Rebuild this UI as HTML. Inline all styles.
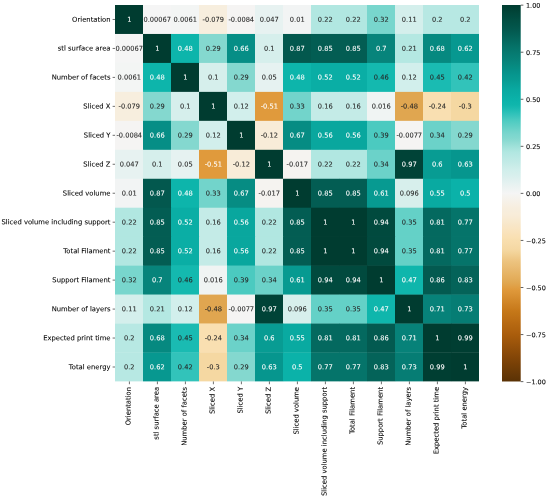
<!DOCTYPE html>
<html lang="en"><head><meta charset="utf-8"><title>Correlation heatmap</title>
<style>html,body{margin:0;padding:0;background:#fff}body{width:550px;height:501px;overflow:hidden}svg{display:block}</style></head>
<body>
<svg width="550" height="501" viewBox="0 0 550 501" font-family="'DejaVu Sans', 'Liberation Sans', sans-serif" font-size="6.67">
<rect width="550" height="501" fill="#fff"/>
<defs><linearGradient id="cb" x1="0" y1="0" x2="0" y2="1"><stop offset="0.0000" stop-color="#003c30"/><stop offset="0.0078" stop-color="#004034"/><stop offset="0.0156" stop-color="#014337"/><stop offset="0.0234" stop-color="#01473b"/><stop offset="0.0312" stop-color="#014a3f"/><stop offset="0.0391" stop-color="#024e42"/><stop offset="0.0469" stop-color="#025146"/><stop offset="0.0547" stop-color="#025449"/><stop offset="0.0625" stop-color="#03574d"/><stop offset="0.0703" stop-color="#035b51"/><stop offset="0.0781" stop-color="#035f55"/><stop offset="0.0859" stop-color="#04645a"/><stop offset="0.0938" stop-color="#04685e"/><stop offset="0.1016" stop-color="#046d63"/><stop offset="0.1094" stop-color="#057167"/><stop offset="0.1172" stop-color="#05756b"/><stop offset="0.1250" stop-color="#06796f"/><stop offset="0.1328" stop-color="#067c73"/><stop offset="0.1406" stop-color="#068076"/><stop offset="0.1484" stop-color="#07837a"/><stop offset="0.1562" stop-color="#07877e"/><stop offset="0.1641" stop-color="#068c82"/><stop offset="0.1719" stop-color="#068f87"/><stop offset="0.1797" stop-color="#06938b"/><stop offset="0.1875" stop-color="#06978f"/><stop offset="0.1953" stop-color="#079a91"/><stop offset="0.2031" stop-color="#089e95"/><stop offset="0.2109" stop-color="#08a299"/><stop offset="0.2188" stop-color="#09a69e"/><stop offset="0.2266" stop-color="#09aaa1"/><stop offset="0.2344" stop-color="#0aaca4"/><stop offset="0.2422" stop-color="#0aafa6"/><stop offset="0.2500" stop-color="#0bb2a9"/><stop offset="0.2578" stop-color="#0db4ab"/><stop offset="0.2656" stop-color="#10b6ac"/><stop offset="0.2734" stop-color="#18bab1"/><stop offset="0.2812" stop-color="#24beb5"/><stop offset="0.2891" stop-color="#30c2ba"/><stop offset="0.2969" stop-color="#3dc6bd"/><stop offset="0.3047" stop-color="#4acac0"/><stop offset="0.3125" stop-color="#54cdc3"/><stop offset="0.3203" stop-color="#5ecfc5"/><stop offset="0.3281" stop-color="#68d2c8"/><stop offset="0.3359" stop-color="#73d4cb"/><stop offset="0.3438" stop-color="#7bd6ce"/><stop offset="0.3516" stop-color="#81d8cf"/><stop offset="0.3594" stop-color="#8adad1"/><stop offset="0.3672" stop-color="#94ddd5"/><stop offset="0.3750" stop-color="#9ee1d9"/><stop offset="0.3828" stop-color="#a8e4dd"/><stop offset="0.3906" stop-color="#b1e7e1"/><stop offset="0.3984" stop-color="#b6e8e3"/><stop offset="0.4062" stop-color="#bbe9e4"/><stop offset="0.4141" stop-color="#c0eae6"/><stop offset="0.4219" stop-color="#c5ebe7"/><stop offset="0.4297" stop-color="#cbede9"/><stop offset="0.4375" stop-color="#d0eeeb"/><stop offset="0.4453" stop-color="#d4efec"/><stop offset="0.4531" stop-color="#d8efed"/><stop offset="0.4609" stop-color="#ddf0ee"/><stop offset="0.4688" stop-color="#e2f1f0"/><stop offset="0.4766" stop-color="#e7f2f1"/><stop offset="0.4844" stop-color="#ecf3f2"/><stop offset="0.4922" stop-color="#f0f4f3"/><stop offset="0.5000" stop-color="#f5f5f5"/><stop offset="0.5078" stop-color="#f5f4f0"/><stop offset="0.5156" stop-color="#f6f2ec"/><stop offset="0.5234" stop-color="#f6f1e7"/><stop offset="0.5312" stop-color="#f7efe3"/><stop offset="0.5391" stop-color="#f7eede"/><stop offset="0.5469" stop-color="#f7eddc"/><stop offset="0.5547" stop-color="#f8edda"/><stop offset="0.5625" stop-color="#f8ebd6"/><stop offset="0.5703" stop-color="#f8ead1"/><stop offset="0.5781" stop-color="#f8e8cc"/><stop offset="0.5859" stop-color="#f8e6c7"/><stop offset="0.5938" stop-color="#f9e5c2"/><stop offset="0.6016" stop-color="#f9e3bd"/><stop offset="0.6094" stop-color="#f9e1b8"/><stop offset="0.6172" stop-color="#f9e0b3"/><stop offset="0.6250" stop-color="#f8deae"/><stop offset="0.6328" stop-color="#f7dcab"/><stop offset="0.6406" stop-color="#f6daa7"/><stop offset="0.6484" stop-color="#f5d8a3"/><stop offset="0.6562" stop-color="#f3d49b"/><stop offset="0.6641" stop-color="#f1cf92"/><stop offset="0.6719" stop-color="#efc989"/><stop offset="0.6797" stop-color="#edc480"/><stop offset="0.6875" stop-color="#ebc07a"/><stop offset="0.6953" stop-color="#eabc74"/><stop offset="0.7031" stop-color="#e8b86e"/><stop offset="0.7109" stop-color="#e6b567"/><stop offset="0.7188" stop-color="#e5b161"/><stop offset="0.7266" stop-color="#e3ad5b"/><stop offset="0.7344" stop-color="#e1a954"/><stop offset="0.7422" stop-color="#e0a44d"/><stop offset="0.7500" stop-color="#e09e43"/><stop offset="0.7578" stop-color="#df983a"/><stop offset="0.7656" stop-color="#db9436"/><stop offset="0.7734" stop-color="#d88f31"/><stop offset="0.7812" stop-color="#d48a2c"/><stop offset="0.7891" stop-color="#d18627"/><stop offset="0.7969" stop-color="#cd8123"/><stop offset="0.8047" stop-color="#ca7d1e"/><stop offset="0.8125" stop-color="#c67819"/><stop offset="0.8203" stop-color="#c27517"/><stop offset="0.8281" stop-color="#bf7116"/><stop offset="0.8359" stop-color="#bc6e14"/><stop offset="0.8438" stop-color="#b86a12"/><stop offset="0.8516" stop-color="#b46711"/><stop offset="0.8594" stop-color="#b1640f"/><stop offset="0.8672" stop-color="#ae600e"/><stop offset="0.8750" stop-color="#aa5d0c"/><stop offset="0.8828" stop-color="#a55a0b"/><stop offset="0.8906" stop-color="#a0570b"/><stop offset="0.8984" stop-color="#9b540a"/><stop offset="0.9062" stop-color="#96510a"/><stop offset="0.9141" stop-color="#914e09"/><stop offset="0.9219" stop-color="#8c4b08"/><stop offset="0.9297" stop-color="#874808"/><stop offset="0.9375" stop-color="#824507"/><stop offset="0.9453" stop-color="#7d4307"/><stop offset="0.9531" stop-color="#784006"/><stop offset="0.9609" stop-color="#733e06"/><stop offset="0.9688" stop-color="#6e3c06"/><stop offset="0.9766" stop-color="#693906"/><stop offset="0.9844" stop-color="#643706"/><stop offset="0.9922" stop-color="#5f3405"/><stop offset="1.0000" stop-color="#5a3205"/></linearGradient></defs>
<g>
<rect x="115.00" y="5.00" width="28.30" height="29.26" fill="#003c30"/>
<rect x="143.00" y="5.00" width="28.30" height="29.26" fill="#f5f5f5"/>
<rect x="171.00" y="5.00" width="28.30" height="29.26" fill="#f3f5f4"/>
<rect x="199.00" y="5.00" width="28.30" height="29.26" fill="#f7eede"/>
<rect x="227.00" y="5.00" width="28.30" height="29.26" fill="#f5f4f3"/>
<rect x="255.00" y="5.00" width="28.30" height="29.26" fill="#e7f2f1"/>
<rect x="283.00" y="5.00" width="28.30" height="29.26" fill="#f2f4f4"/>
<rect x="311.00" y="5.00" width="28.30" height="29.26" fill="#b1e7e1"/>
<rect x="339.00" y="5.00" width="28.30" height="29.26" fill="#b1e7e1"/>
<rect x="367.00" y="5.00" width="28.30" height="29.26" fill="#78d6cd"/>
<rect x="395.00" y="5.00" width="28.30" height="29.26" fill="#d4efec"/>
<rect x="423.00" y="5.00" width="28.30" height="29.26" fill="#b7e8e3"/>
<rect x="451.00" y="5.00" width="28.30" height="29.26" fill="#b7e8e3"/>
<rect x="115.00" y="33.96" width="28.30" height="29.26" fill="#f5f5f5"/>
<rect x="143.00" y="33.96" width="28.30" height="29.26" fill="#003c30"/>
<rect x="171.00" y="33.96" width="28.30" height="29.26" fill="#0db5ab"/>
<rect x="199.00" y="33.96" width="28.30" height="29.26" fill="#84d8cf"/>
<rect x="227.00" y="33.96" width="28.30" height="29.26" fill="#068e86"/>
<rect x="255.00" y="33.96" width="28.30" height="29.26" fill="#d6efec"/>
<rect x="283.00" y="33.96" width="28.30" height="29.26" fill="#03584e"/>
<rect x="311.00" y="33.96" width="28.30" height="29.26" fill="#035d53"/>
<rect x="339.00" y="33.96" width="28.30" height="29.26" fill="#035d53"/>
<rect x="367.00" y="33.96" width="28.30" height="29.26" fill="#07847b"/>
<rect x="395.00" y="33.96" width="28.30" height="29.26" fill="#b4e8e2"/>
<rect x="423.00" y="33.96" width="28.30" height="29.26" fill="#068980"/>
<rect x="451.00" y="33.96" width="28.30" height="29.26" fill="#079890"/>
<rect x="115.00" y="62.92" width="28.30" height="29.26" fill="#f3f5f4"/>
<rect x="143.00" y="62.92" width="28.30" height="29.26" fill="#0db5ab"/>
<rect x="171.00" y="62.92" width="28.30" height="29.26" fill="#003c30"/>
<rect x="199.00" y="62.92" width="28.30" height="29.26" fill="#d6efec"/>
<rect x="227.00" y="62.92" width="28.30" height="29.26" fill="#84d8cf"/>
<rect x="255.00" y="62.92" width="28.30" height="29.26" fill="#e6f2f1"/>
<rect x="283.00" y="62.92" width="28.30" height="29.26" fill="#0db5ab"/>
<rect x="311.00" y="62.92" width="28.30" height="29.26" fill="#0aaea5"/>
<rect x="339.00" y="62.92" width="28.30" height="29.26" fill="#0aaea5"/>
<rect x="367.00" y="62.92" width="28.30" height="29.26" fill="#14b9af"/>
<rect x="395.00" y="62.92" width="28.30" height="29.26" fill="#d2efec"/>
<rect x="423.00" y="62.92" width="28.30" height="29.26" fill="#1abbb2"/>
<rect x="451.00" y="62.92" width="28.30" height="29.26" fill="#32c3ba"/>
<rect x="115.00" y="91.88" width="28.30" height="29.26" fill="#f7eede"/>
<rect x="143.00" y="91.88" width="28.30" height="29.26" fill="#84d8cf"/>
<rect x="171.00" y="91.88" width="28.30" height="29.26" fill="#d6efec"/>
<rect x="199.00" y="91.88" width="28.30" height="29.26" fill="#003c30"/>
<rect x="227.00" y="91.88" width="28.30" height="29.26" fill="#d2efec"/>
<rect x="255.00" y="91.88" width="28.30" height="29.26" fill="#e09a3c"/>
<rect x="283.00" y="91.88" width="28.30" height="29.26" fill="#72d4cb"/>
<rect x="311.00" y="91.88" width="28.30" height="29.26" fill="#c4ebe7"/>
<rect x="339.00" y="91.88" width="28.30" height="29.26" fill="#c4ebe7"/>
<rect x="367.00" y="91.88" width="28.30" height="29.26" fill="#f0f4f3"/>
<rect x="395.00" y="91.88" width="28.30" height="29.26" fill="#e0a650"/>
<rect x="423.00" y="91.88" width="28.30" height="29.26" fill="#f9dfb1"/>
<rect x="451.00" y="91.88" width="28.30" height="29.26" fill="#f5d8a2"/>
<rect x="115.00" y="120.84" width="28.30" height="29.26" fill="#f5f4f3"/>
<rect x="143.00" y="120.84" width="28.30" height="29.26" fill="#068e86"/>
<rect x="171.00" y="120.84" width="28.30" height="29.26" fill="#84d8cf"/>
<rect x="199.00" y="120.84" width="28.30" height="29.26" fill="#d2efec"/>
<rect x="227.00" y="120.84" width="28.30" height="29.26" fill="#003c30"/>
<rect x="255.00" y="120.84" width="28.30" height="29.26" fill="#f8ecd8"/>
<rect x="283.00" y="120.84" width="28.30" height="29.26" fill="#068c83"/>
<rect x="311.00" y="120.84" width="28.30" height="29.26" fill="#09a79e"/>
<rect x="339.00" y="120.84" width="28.30" height="29.26" fill="#09a79e"/>
<rect x="367.00" y="120.84" width="28.30" height="29.26" fill="#4bcac0"/>
<rect x="395.00" y="120.84" width="28.30" height="29.26" fill="#f5f4f3"/>
<rect x="423.00" y="120.84" width="28.30" height="29.26" fill="#6bd2c9"/>
<rect x="451.00" y="120.84" width="28.30" height="29.26" fill="#84d8cf"/>
<rect x="115.00" y="149.80" width="28.30" height="29.26" fill="#e7f2f1"/>
<rect x="143.00" y="149.80" width="28.30" height="29.26" fill="#d6efec"/>
<rect x="171.00" y="149.80" width="28.30" height="29.26" fill="#e6f2f1"/>
<rect x="199.00" y="149.80" width="28.30" height="29.26" fill="#e09a3c"/>
<rect x="227.00" y="149.80" width="28.30" height="29.26" fill="#f8ecd8"/>
<rect x="255.00" y="149.80" width="28.30" height="29.26" fill="#003c30"/>
<rect x="283.00" y="149.80" width="28.30" height="29.26" fill="#f5f3f0"/>
<rect x="311.00" y="149.80" width="28.30" height="29.26" fill="#b1e7e1"/>
<rect x="339.00" y="149.80" width="28.30" height="29.26" fill="#b1e7e1"/>
<rect x="367.00" y="149.80" width="28.30" height="29.26" fill="#6bd2c9"/>
<rect x="395.00" y="149.80" width="28.30" height="29.26" fill="#004337"/>
<rect x="423.00" y="149.80" width="28.30" height="29.26" fill="#089c93"/>
<rect x="451.00" y="149.80" width="28.30" height="29.26" fill="#06968e"/>
<rect x="115.00" y="178.76" width="28.30" height="29.26" fill="#f2f4f4"/>
<rect x="143.00" y="178.76" width="28.30" height="29.26" fill="#03584e"/>
<rect x="171.00" y="178.76" width="28.30" height="29.26" fill="#0db5ab"/>
<rect x="199.00" y="178.76" width="28.30" height="29.26" fill="#72d4cb"/>
<rect x="227.00" y="178.76" width="28.30" height="29.26" fill="#068c83"/>
<rect x="255.00" y="178.76" width="28.30" height="29.26" fill="#f5f3f0"/>
<rect x="283.00" y="178.76" width="28.30" height="29.26" fill="#003c30"/>
<rect x="311.00" y="178.76" width="28.30" height="29.26" fill="#035d53"/>
<rect x="339.00" y="178.76" width="28.30" height="29.26" fill="#035d53"/>
<rect x="367.00" y="178.76" width="28.30" height="29.26" fill="#079a91"/>
<rect x="395.00" y="178.76" width="28.30" height="29.26" fill="#d7efec"/>
<rect x="423.00" y="178.76" width="28.30" height="29.26" fill="#09aaa1"/>
<rect x="451.00" y="178.76" width="28.30" height="29.26" fill="#0bb2a9"/>
<rect x="115.00" y="207.72" width="28.30" height="29.26" fill="#b1e7e1"/>
<rect x="143.00" y="207.72" width="28.30" height="29.26" fill="#035d53"/>
<rect x="171.00" y="207.72" width="28.30" height="29.26" fill="#0aaea5"/>
<rect x="199.00" y="207.72" width="28.30" height="29.26" fill="#c4ebe7"/>
<rect x="227.00" y="207.72" width="28.30" height="29.26" fill="#09a79e"/>
<rect x="255.00" y="207.72" width="28.30" height="29.26" fill="#b1e7e1"/>
<rect x="283.00" y="207.72" width="28.30" height="29.26" fill="#035d53"/>
<rect x="311.00" y="207.72" width="28.30" height="29.26" fill="#003c30"/>
<rect x="339.00" y="207.72" width="28.30" height="29.26" fill="#003c30"/>
<rect x="367.00" y="207.72" width="28.30" height="29.26" fill="#014a3e"/>
<rect x="395.00" y="207.72" width="28.30" height="29.26" fill="#64d1c7"/>
<rect x="423.00" y="207.72" width="28.30" height="29.26" fill="#04695f"/>
<rect x="451.00" y="207.72" width="28.30" height="29.26" fill="#05746a"/>
<rect x="115.00" y="236.68" width="28.30" height="29.26" fill="#b1e7e1"/>
<rect x="143.00" y="236.68" width="28.30" height="29.26" fill="#035d53"/>
<rect x="171.00" y="236.68" width="28.30" height="29.26" fill="#0aaea5"/>
<rect x="199.00" y="236.68" width="28.30" height="29.26" fill="#c4ebe7"/>
<rect x="227.00" y="236.68" width="28.30" height="29.26" fill="#09a79e"/>
<rect x="255.00" y="236.68" width="28.30" height="29.26" fill="#b1e7e1"/>
<rect x="283.00" y="236.68" width="28.30" height="29.26" fill="#035d53"/>
<rect x="311.00" y="236.68" width="28.30" height="29.26" fill="#003c30"/>
<rect x="339.00" y="236.68" width="28.30" height="29.26" fill="#003c30"/>
<rect x="367.00" y="236.68" width="28.30" height="29.26" fill="#014a3e"/>
<rect x="395.00" y="236.68" width="28.30" height="29.26" fill="#64d1c7"/>
<rect x="423.00" y="236.68" width="28.30" height="29.26" fill="#04695f"/>
<rect x="451.00" y="236.68" width="28.30" height="29.26" fill="#05746a"/>
<rect x="115.00" y="265.64" width="28.30" height="29.26" fill="#78d6cd"/>
<rect x="143.00" y="265.64" width="28.30" height="29.26" fill="#07847b"/>
<rect x="171.00" y="265.64" width="28.30" height="29.26" fill="#14b9af"/>
<rect x="199.00" y="265.64" width="28.30" height="29.26" fill="#f0f4f3"/>
<rect x="227.00" y="265.64" width="28.30" height="29.26" fill="#4bcac0"/>
<rect x="255.00" y="265.64" width="28.30" height="29.26" fill="#6bd2c9"/>
<rect x="283.00" y="265.64" width="28.30" height="29.26" fill="#079a91"/>
<rect x="311.00" y="265.64" width="28.30" height="29.26" fill="#014a3e"/>
<rect x="339.00" y="265.64" width="28.30" height="29.26" fill="#014a3e"/>
<rect x="367.00" y="265.64" width="28.30" height="29.26" fill="#003c30"/>
<rect x="395.00" y="265.64" width="28.30" height="29.26" fill="#0fb6ac"/>
<rect x="423.00" y="265.64" width="28.30" height="29.26" fill="#035a50"/>
<rect x="451.00" y="265.64" width="28.30" height="29.26" fill="#046359"/>
<rect x="115.00" y="294.60" width="28.30" height="29.26" fill="#d4efec"/>
<rect x="143.00" y="294.60" width="28.30" height="29.26" fill="#b4e8e2"/>
<rect x="171.00" y="294.60" width="28.30" height="29.26" fill="#d2efec"/>
<rect x="199.00" y="294.60" width="28.30" height="29.26" fill="#e0a650"/>
<rect x="227.00" y="294.60" width="28.30" height="29.26" fill="#f5f4f3"/>
<rect x="255.00" y="294.60" width="28.30" height="29.26" fill="#004337"/>
<rect x="283.00" y="294.60" width="28.30" height="29.26" fill="#d7efec"/>
<rect x="311.00" y="294.60" width="28.30" height="29.26" fill="#64d1c7"/>
<rect x="339.00" y="294.60" width="28.30" height="29.26" fill="#64d1c7"/>
<rect x="367.00" y="294.60" width="28.30" height="29.26" fill="#0fb6ac"/>
<rect x="395.00" y="294.60" width="28.30" height="29.26" fill="#003c30"/>
<rect x="423.00" y="294.60" width="28.30" height="29.26" fill="#078279"/>
<rect x="451.00" y="294.60" width="28.30" height="29.26" fill="#067d74"/>
<rect x="115.00" y="323.56" width="28.30" height="29.26" fill="#b7e8e3"/>
<rect x="143.00" y="323.56" width="28.30" height="29.26" fill="#068980"/>
<rect x="171.00" y="323.56" width="28.30" height="29.26" fill="#1abbb2"/>
<rect x="199.00" y="323.56" width="28.30" height="29.26" fill="#f9dfb1"/>
<rect x="227.00" y="323.56" width="28.30" height="29.26" fill="#6bd2c9"/>
<rect x="255.00" y="323.56" width="28.30" height="29.26" fill="#089c93"/>
<rect x="283.00" y="323.56" width="28.30" height="29.26" fill="#09aaa1"/>
<rect x="311.00" y="323.56" width="28.30" height="29.26" fill="#04695f"/>
<rect x="339.00" y="323.56" width="28.30" height="29.26" fill="#04695f"/>
<rect x="367.00" y="323.56" width="28.30" height="29.26" fill="#035a50"/>
<rect x="395.00" y="323.56" width="28.30" height="29.26" fill="#078279"/>
<rect x="423.00" y="323.56" width="28.30" height="29.26" fill="#003c30"/>
<rect x="451.00" y="323.56" width="28.30" height="29.26" fill="#003e32"/>
<rect x="115.00" y="352.52" width="28.30" height="29.26" fill="#b7e8e3"/>
<rect x="143.00" y="352.52" width="28.30" height="29.26" fill="#079890"/>
<rect x="171.00" y="352.52" width="28.30" height="29.26" fill="#32c3ba"/>
<rect x="199.00" y="352.52" width="28.30" height="29.26" fill="#f5d8a2"/>
<rect x="227.00" y="352.52" width="28.30" height="29.26" fill="#84d8cf"/>
<rect x="255.00" y="352.52" width="28.30" height="29.26" fill="#06968e"/>
<rect x="283.00" y="352.52" width="28.30" height="29.26" fill="#0bb2a9"/>
<rect x="311.00" y="352.52" width="28.30" height="29.26" fill="#05746a"/>
<rect x="339.00" y="352.52" width="28.30" height="29.26" fill="#05746a"/>
<rect x="367.00" y="352.52" width="28.30" height="29.26" fill="#046359"/>
<rect x="395.00" y="352.52" width="28.30" height="29.26" fill="#067d74"/>
<rect x="423.00" y="352.52" width="28.30" height="29.26" fill="#003e32"/>
<rect x="451.00" y="352.52" width="28.30" height="29.26" fill="#003c30"/>
</g>
<rect x="479.00" y="0" width="2" height="501" fill="#fff"/>
<rect x="0" y="381.48" width="481.00" height="2" fill="#fff"/>
<g text-anchor="middle" stroke-width="0.08">
<text transform="translate(129.26,21.68) rotate(0.05)" fill="#ffffff" stroke="#ffffff">1</text>
<text transform="translate(157.26,21.68) rotate(0.05)" fill="#262626" stroke="#262626">0.00067</text>
<text transform="translate(185.26,21.68) rotate(0.05)" fill="#262626" stroke="#262626">0.0061</text>
<text transform="translate(213.26,21.68) rotate(0.05)" fill="#262626" stroke="#262626">-0.079</text>
<text transform="translate(241.26,21.68) rotate(0.05)" fill="#262626" stroke="#262626">-0.0084</text>
<text transform="translate(269.26,21.68) rotate(0.05)" fill="#262626" stroke="#262626">0.047</text>
<text transform="translate(297.26,21.68) rotate(0.05)" fill="#262626" stroke="#262626">0.01</text>
<text transform="translate(325.26,21.68) rotate(0.05)" fill="#262626" stroke="#262626">0.22</text>
<text transform="translate(353.26,21.68) rotate(0.05)" fill="#262626" stroke="#262626">0.22</text>
<text transform="translate(381.26,21.68) rotate(0.05)" fill="#262626" stroke="#262626">0.32</text>
<text transform="translate(409.26,21.68) rotate(0.05)" fill="#262626" stroke="#262626">0.11</text>
<text transform="translate(437.26,21.68) rotate(0.05)" fill="#262626" stroke="#262626">0.2</text>
<text transform="translate(465.26,21.68) rotate(0.05)" fill="#262626" stroke="#262626">0.2</text>
<text transform="translate(129.26,50.64) rotate(0.05)" fill="#262626" stroke="#262626">0.00067</text>
<text transform="translate(157.26,50.64) rotate(0.05)" fill="#ffffff" stroke="#ffffff">1</text>
<text transform="translate(185.26,50.64) rotate(0.05)" fill="#ffffff" stroke="#ffffff">0.48</text>
<text transform="translate(213.26,50.64) rotate(0.05)" fill="#262626" stroke="#262626">0.29</text>
<text transform="translate(241.26,50.64) rotate(0.05)" fill="#ffffff" stroke="#ffffff">0.66</text>
<text transform="translate(269.26,50.64) rotate(0.05)" fill="#262626" stroke="#262626">0.1</text>
<text transform="translate(297.26,50.64) rotate(0.05)" fill="#ffffff" stroke="#ffffff">0.87</text>
<text transform="translate(325.26,50.64) rotate(0.05)" fill="#ffffff" stroke="#ffffff">0.85</text>
<text transform="translate(353.26,50.64) rotate(0.05)" fill="#ffffff" stroke="#ffffff">0.85</text>
<text transform="translate(381.26,50.64) rotate(0.05)" fill="#ffffff" stroke="#ffffff">0.7</text>
<text transform="translate(409.26,50.64) rotate(0.05)" fill="#262626" stroke="#262626">0.21</text>
<text transform="translate(437.26,50.64) rotate(0.05)" fill="#ffffff" stroke="#ffffff">0.68</text>
<text transform="translate(465.26,50.64) rotate(0.05)" fill="#ffffff" stroke="#ffffff">0.62</text>
<text transform="translate(129.26,79.60) rotate(0.05)" fill="#262626" stroke="#262626">0.0061</text>
<text transform="translate(157.26,79.60) rotate(0.05)" fill="#ffffff" stroke="#ffffff">0.48</text>
<text transform="translate(185.26,79.60) rotate(0.05)" fill="#ffffff" stroke="#ffffff">1</text>
<text transform="translate(213.26,79.60) rotate(0.05)" fill="#262626" stroke="#262626">0.1</text>
<text transform="translate(241.26,79.60) rotate(0.05)" fill="#262626" stroke="#262626">0.29</text>
<text transform="translate(269.26,79.60) rotate(0.05)" fill="#262626" stroke="#262626">0.05</text>
<text transform="translate(297.26,79.60) rotate(0.05)" fill="#ffffff" stroke="#ffffff">0.48</text>
<text transform="translate(325.26,79.60) rotate(0.05)" fill="#ffffff" stroke="#ffffff">0.52</text>
<text transform="translate(353.26,79.60) rotate(0.05)" fill="#ffffff" stroke="#ffffff">0.52</text>
<text transform="translate(381.26,79.60) rotate(0.05)" fill="#262626" stroke="#262626">0.46</text>
<text transform="translate(409.26,79.60) rotate(0.05)" fill="#262626" stroke="#262626">0.12</text>
<text transform="translate(437.26,79.60) rotate(0.05)" fill="#262626" stroke="#262626">0.45</text>
<text transform="translate(465.26,79.60) rotate(0.05)" fill="#262626" stroke="#262626">0.42</text>
<text transform="translate(129.26,108.56) rotate(0.05)" fill="#262626" stroke="#262626">-0.079</text>
<text transform="translate(157.26,108.56) rotate(0.05)" fill="#262626" stroke="#262626">0.29</text>
<text transform="translate(185.26,108.56) rotate(0.05)" fill="#262626" stroke="#262626">0.1</text>
<text transform="translate(213.26,108.56) rotate(0.05)" fill="#ffffff" stroke="#ffffff">1</text>
<text transform="translate(241.26,108.56) rotate(0.05)" fill="#262626" stroke="#262626">0.12</text>
<text transform="translate(269.26,108.56) rotate(0.05)" fill="#ffffff" stroke="#ffffff">-0.51</text>
<text transform="translate(297.26,108.56) rotate(0.05)" fill="#262626" stroke="#262626">0.33</text>
<text transform="translate(325.26,108.56) rotate(0.05)" fill="#262626" stroke="#262626">0.16</text>
<text transform="translate(353.26,108.56) rotate(0.05)" fill="#262626" stroke="#262626">0.16</text>
<text transform="translate(381.26,108.56) rotate(0.05)" fill="#262626" stroke="#262626">0.016</text>
<text transform="translate(409.26,108.56) rotate(0.05)" fill="#262626" stroke="#262626">-0.48</text>
<text transform="translate(437.26,108.56) rotate(0.05)" fill="#262626" stroke="#262626">-0.24</text>
<text transform="translate(465.26,108.56) rotate(0.05)" fill="#262626" stroke="#262626">-0.3</text>
<text transform="translate(129.26,137.52) rotate(0.05)" fill="#262626" stroke="#262626">-0.0084</text>
<text transform="translate(157.26,137.52) rotate(0.05)" fill="#ffffff" stroke="#ffffff">0.66</text>
<text transform="translate(185.26,137.52) rotate(0.05)" fill="#262626" stroke="#262626">0.29</text>
<text transform="translate(213.26,137.52) rotate(0.05)" fill="#262626" stroke="#262626">0.12</text>
<text transform="translate(241.26,137.52) rotate(0.05)" fill="#ffffff" stroke="#ffffff">1</text>
<text transform="translate(269.26,137.52) rotate(0.05)" fill="#262626" stroke="#262626">-0.12</text>
<text transform="translate(297.26,137.52) rotate(0.05)" fill="#ffffff" stroke="#ffffff">0.67</text>
<text transform="translate(325.26,137.52) rotate(0.05)" fill="#ffffff" stroke="#ffffff">0.56</text>
<text transform="translate(353.26,137.52) rotate(0.05)" fill="#ffffff" stroke="#ffffff">0.56</text>
<text transform="translate(381.26,137.52) rotate(0.05)" fill="#262626" stroke="#262626">0.39</text>
<text transform="translate(409.26,137.52) rotate(0.05)" fill="#262626" stroke="#262626">-0.0077</text>
<text transform="translate(437.26,137.52) rotate(0.05)" fill="#262626" stroke="#262626">0.34</text>
<text transform="translate(465.26,137.52) rotate(0.05)" fill="#262626" stroke="#262626">0.29</text>
<text transform="translate(129.26,166.48) rotate(0.05)" fill="#262626" stroke="#262626">0.047</text>
<text transform="translate(157.26,166.48) rotate(0.05)" fill="#262626" stroke="#262626">0.1</text>
<text transform="translate(185.26,166.48) rotate(0.05)" fill="#262626" stroke="#262626">0.05</text>
<text transform="translate(213.26,166.48) rotate(0.05)" fill="#ffffff" stroke="#ffffff">-0.51</text>
<text transform="translate(241.26,166.48) rotate(0.05)" fill="#262626" stroke="#262626">-0.12</text>
<text transform="translate(269.26,166.48) rotate(0.05)" fill="#ffffff" stroke="#ffffff">1</text>
<text transform="translate(297.26,166.48) rotate(0.05)" fill="#262626" stroke="#262626">-0.017</text>
<text transform="translate(325.26,166.48) rotate(0.05)" fill="#262626" stroke="#262626">0.22</text>
<text transform="translate(353.26,166.48) rotate(0.05)" fill="#262626" stroke="#262626">0.22</text>
<text transform="translate(381.26,166.48) rotate(0.05)" fill="#262626" stroke="#262626">0.34</text>
<text transform="translate(409.26,166.48) rotate(0.05)" fill="#ffffff" stroke="#ffffff">0.97</text>
<text transform="translate(437.26,166.48) rotate(0.05)" fill="#ffffff" stroke="#ffffff">0.6</text>
<text transform="translate(465.26,166.48) rotate(0.05)" fill="#ffffff" stroke="#ffffff">0.63</text>
<text transform="translate(129.26,195.44) rotate(0.05)" fill="#262626" stroke="#262626">0.01</text>
<text transform="translate(157.26,195.44) rotate(0.05)" fill="#ffffff" stroke="#ffffff">0.87</text>
<text transform="translate(185.26,195.44) rotate(0.05)" fill="#ffffff" stroke="#ffffff">0.48</text>
<text transform="translate(213.26,195.44) rotate(0.05)" fill="#262626" stroke="#262626">0.33</text>
<text transform="translate(241.26,195.44) rotate(0.05)" fill="#ffffff" stroke="#ffffff">0.67</text>
<text transform="translate(269.26,195.44) rotate(0.05)" fill="#262626" stroke="#262626">-0.017</text>
<text transform="translate(297.26,195.44) rotate(0.05)" fill="#ffffff" stroke="#ffffff">1</text>
<text transform="translate(325.26,195.44) rotate(0.05)" fill="#ffffff" stroke="#ffffff">0.85</text>
<text transform="translate(353.26,195.44) rotate(0.05)" fill="#ffffff" stroke="#ffffff">0.85</text>
<text transform="translate(381.26,195.44) rotate(0.05)" fill="#ffffff" stroke="#ffffff">0.61</text>
<text transform="translate(409.26,195.44) rotate(0.05)" fill="#262626" stroke="#262626">0.096</text>
<text transform="translate(437.26,195.44) rotate(0.05)" fill="#ffffff" stroke="#ffffff">0.55</text>
<text transform="translate(465.26,195.44) rotate(0.05)" fill="#ffffff" stroke="#ffffff">0.5</text>
<text transform="translate(129.26,224.40) rotate(0.05)" fill="#262626" stroke="#262626">0.22</text>
<text transform="translate(157.26,224.40) rotate(0.05)" fill="#ffffff" stroke="#ffffff">0.85</text>
<text transform="translate(185.26,224.40) rotate(0.05)" fill="#ffffff" stroke="#ffffff">0.52</text>
<text transform="translate(213.26,224.40) rotate(0.05)" fill="#262626" stroke="#262626">0.16</text>
<text transform="translate(241.26,224.40) rotate(0.05)" fill="#ffffff" stroke="#ffffff">0.56</text>
<text transform="translate(269.26,224.40) rotate(0.05)" fill="#262626" stroke="#262626">0.22</text>
<text transform="translate(297.26,224.40) rotate(0.05)" fill="#ffffff" stroke="#ffffff">0.85</text>
<text transform="translate(325.26,224.40) rotate(0.05)" fill="#ffffff" stroke="#ffffff">1</text>
<text transform="translate(353.26,224.40) rotate(0.05)" fill="#ffffff" stroke="#ffffff">1</text>
<text transform="translate(381.26,224.40) rotate(0.05)" fill="#ffffff" stroke="#ffffff">0.94</text>
<text transform="translate(409.26,224.40) rotate(0.05)" fill="#262626" stroke="#262626">0.35</text>
<text transform="translate(437.26,224.40) rotate(0.05)" fill="#ffffff" stroke="#ffffff">0.81</text>
<text transform="translate(465.26,224.40) rotate(0.05)" fill="#ffffff" stroke="#ffffff">0.77</text>
<text transform="translate(129.26,253.36) rotate(0.05)" fill="#262626" stroke="#262626">0.22</text>
<text transform="translate(157.26,253.36) rotate(0.05)" fill="#ffffff" stroke="#ffffff">0.85</text>
<text transform="translate(185.26,253.36) rotate(0.05)" fill="#ffffff" stroke="#ffffff">0.52</text>
<text transform="translate(213.26,253.36) rotate(0.05)" fill="#262626" stroke="#262626">0.16</text>
<text transform="translate(241.26,253.36) rotate(0.05)" fill="#ffffff" stroke="#ffffff">0.56</text>
<text transform="translate(269.26,253.36) rotate(0.05)" fill="#262626" stroke="#262626">0.22</text>
<text transform="translate(297.26,253.36) rotate(0.05)" fill="#ffffff" stroke="#ffffff">0.85</text>
<text transform="translate(325.26,253.36) rotate(0.05)" fill="#ffffff" stroke="#ffffff">1</text>
<text transform="translate(353.26,253.36) rotate(0.05)" fill="#ffffff" stroke="#ffffff">1</text>
<text transform="translate(381.26,253.36) rotate(0.05)" fill="#ffffff" stroke="#ffffff">0.94</text>
<text transform="translate(409.26,253.36) rotate(0.05)" fill="#262626" stroke="#262626">0.35</text>
<text transform="translate(437.26,253.36) rotate(0.05)" fill="#ffffff" stroke="#ffffff">0.81</text>
<text transform="translate(465.26,253.36) rotate(0.05)" fill="#ffffff" stroke="#ffffff">0.77</text>
<text transform="translate(129.26,282.32) rotate(0.05)" fill="#262626" stroke="#262626">0.32</text>
<text transform="translate(157.26,282.32) rotate(0.05)" fill="#ffffff" stroke="#ffffff">0.7</text>
<text transform="translate(185.26,282.32) rotate(0.05)" fill="#262626" stroke="#262626">0.46</text>
<text transform="translate(213.26,282.32) rotate(0.05)" fill="#262626" stroke="#262626">0.016</text>
<text transform="translate(241.26,282.32) rotate(0.05)" fill="#262626" stroke="#262626">0.39</text>
<text transform="translate(269.26,282.32) rotate(0.05)" fill="#262626" stroke="#262626">0.34</text>
<text transform="translate(297.26,282.32) rotate(0.05)" fill="#ffffff" stroke="#ffffff">0.61</text>
<text transform="translate(325.26,282.32) rotate(0.05)" fill="#ffffff" stroke="#ffffff">0.94</text>
<text transform="translate(353.26,282.32) rotate(0.05)" fill="#ffffff" stroke="#ffffff">0.94</text>
<text transform="translate(381.26,282.32) rotate(0.05)" fill="#ffffff" stroke="#ffffff">1</text>
<text transform="translate(409.26,282.32) rotate(0.05)" fill="#ffffff" stroke="#ffffff">0.47</text>
<text transform="translate(437.26,282.32) rotate(0.05)" fill="#ffffff" stroke="#ffffff">0.86</text>
<text transform="translate(465.26,282.32) rotate(0.05)" fill="#ffffff" stroke="#ffffff">0.83</text>
<text transform="translate(129.26,311.28) rotate(0.05)" fill="#262626" stroke="#262626">0.11</text>
<text transform="translate(157.26,311.28) rotate(0.05)" fill="#262626" stroke="#262626">0.21</text>
<text transform="translate(185.26,311.28) rotate(0.05)" fill="#262626" stroke="#262626">0.12</text>
<text transform="translate(213.26,311.28) rotate(0.05)" fill="#262626" stroke="#262626">-0.48</text>
<text transform="translate(241.26,311.28) rotate(0.05)" fill="#262626" stroke="#262626">-0.0077</text>
<text transform="translate(269.26,311.28) rotate(0.05)" fill="#ffffff" stroke="#ffffff">0.97</text>
<text transform="translate(297.26,311.28) rotate(0.05)" fill="#262626" stroke="#262626">0.096</text>
<text transform="translate(325.26,311.28) rotate(0.05)" fill="#262626" stroke="#262626">0.35</text>
<text transform="translate(353.26,311.28) rotate(0.05)" fill="#262626" stroke="#262626">0.35</text>
<text transform="translate(381.26,311.28) rotate(0.05)" fill="#ffffff" stroke="#ffffff">0.47</text>
<text transform="translate(409.26,311.28) rotate(0.05)" fill="#ffffff" stroke="#ffffff">1</text>
<text transform="translate(437.26,311.28) rotate(0.05)" fill="#ffffff" stroke="#ffffff">0.71</text>
<text transform="translate(465.26,311.28) rotate(0.05)" fill="#ffffff" stroke="#ffffff">0.73</text>
<text transform="translate(129.26,340.24) rotate(0.05)" fill="#262626" stroke="#262626">0.2</text>
<text transform="translate(157.26,340.24) rotate(0.05)" fill="#ffffff" stroke="#ffffff">0.68</text>
<text transform="translate(185.26,340.24) rotate(0.05)" fill="#262626" stroke="#262626">0.45</text>
<text transform="translate(213.26,340.24) rotate(0.05)" fill="#262626" stroke="#262626">-0.24</text>
<text transform="translate(241.26,340.24) rotate(0.05)" fill="#262626" stroke="#262626">0.34</text>
<text transform="translate(269.26,340.24) rotate(0.05)" fill="#ffffff" stroke="#ffffff">0.6</text>
<text transform="translate(297.26,340.24) rotate(0.05)" fill="#ffffff" stroke="#ffffff">0.55</text>
<text transform="translate(325.26,340.24) rotate(0.05)" fill="#ffffff" stroke="#ffffff">0.81</text>
<text transform="translate(353.26,340.24) rotate(0.05)" fill="#ffffff" stroke="#ffffff">0.81</text>
<text transform="translate(381.26,340.24) rotate(0.05)" fill="#ffffff" stroke="#ffffff">0.86</text>
<text transform="translate(409.26,340.24) rotate(0.05)" fill="#ffffff" stroke="#ffffff">0.71</text>
<text transform="translate(437.26,340.24) rotate(0.05)" fill="#ffffff" stroke="#ffffff">1</text>
<text transform="translate(465.26,340.24) rotate(0.05)" fill="#ffffff" stroke="#ffffff">0.99</text>
<text transform="translate(129.26,369.20) rotate(0.05)" fill="#262626" stroke="#262626">0.2</text>
<text transform="translate(157.26,369.20) rotate(0.05)" fill="#ffffff" stroke="#ffffff">0.62</text>
<text transform="translate(185.26,369.20) rotate(0.05)" fill="#262626" stroke="#262626">0.42</text>
<text transform="translate(213.26,369.20) rotate(0.05)" fill="#262626" stroke="#262626">-0.3</text>
<text transform="translate(241.26,369.20) rotate(0.05)" fill="#262626" stroke="#262626">0.29</text>
<text transform="translate(269.26,369.20) rotate(0.05)" fill="#ffffff" stroke="#ffffff">0.63</text>
<text transform="translate(297.26,369.20) rotate(0.05)" fill="#ffffff" stroke="#ffffff">0.5</text>
<text transform="translate(325.26,369.20) rotate(0.05)" fill="#ffffff" stroke="#ffffff">0.77</text>
<text transform="translate(353.26,369.20) rotate(0.05)" fill="#ffffff" stroke="#ffffff">0.77</text>
<text transform="translate(381.26,369.20) rotate(0.05)" fill="#ffffff" stroke="#ffffff">0.83</text>
<text transform="translate(409.26,369.20) rotate(0.05)" fill="#ffffff" stroke="#ffffff">0.73</text>
<text transform="translate(437.26,369.20) rotate(0.05)" fill="#ffffff" stroke="#ffffff">0.99</text>
<text transform="translate(465.26,369.20) rotate(0.05)" fill="#ffffff" stroke="#ffffff">1</text>
</g>
<g text-anchor="end" fill="#000000" stroke="#000000" stroke-width="0.08" font-size="6.8">
<text transform="translate(110.49,21.66) rotate(0.05)">Orientation</text>
<text transform="translate(110.49,50.62) rotate(0.05)">stl surface area</text>
<text transform="translate(110.49,79.58) rotate(0.05)">Number of facets</text>
<text transform="translate(110.49,108.54) rotate(0.05)">Sliced X</text>
<text transform="translate(110.49,137.50) rotate(0.05)">Sliced Y</text>
<text transform="translate(110.49,166.46) rotate(0.05)">Sliced Z</text>
<text transform="translate(110.49,195.42) rotate(0.05)">Sliced volume</text>
<text transform="translate(110.49,224.38) rotate(0.05)">Sliced volume including support</text>
<text transform="translate(110.49,253.34) rotate(0.05)">Total Filament</text>
<text transform="translate(110.49,282.30) rotate(0.05)">Support Filament</text>
<text transform="translate(110.49,311.26) rotate(0.05)">Number of layers</text>
<text transform="translate(110.49,340.22) rotate(0.05)">Expected print time</text>
<text transform="translate(110.49,369.18) rotate(0.05)">Total energy</text>
</g>
<g stroke="#000000" stroke-width="0.57">
<line x1="112.62" y1="19.48" x2="115.00" y2="19.48"/>
<line x1="129.40" y1="381.48" x2="129.40" y2="384.26"/>
<line x1="112.62" y1="48.44" x2="115.00" y2="48.44"/>
<line x1="157.40" y1="381.48" x2="157.40" y2="384.26"/>
<line x1="112.62" y1="77.40" x2="115.00" y2="77.40"/>
<line x1="185.40" y1="381.48" x2="185.40" y2="384.26"/>
<line x1="112.62" y1="106.36" x2="115.00" y2="106.36"/>
<line x1="213.40" y1="381.48" x2="213.40" y2="384.26"/>
<line x1="112.62" y1="135.32" x2="115.00" y2="135.32"/>
<line x1="241.40" y1="381.48" x2="241.40" y2="384.26"/>
<line x1="112.62" y1="164.28" x2="115.00" y2="164.28"/>
<line x1="269.40" y1="381.48" x2="269.40" y2="384.26"/>
<line x1="112.62" y1="193.24" x2="115.00" y2="193.24"/>
<line x1="297.40" y1="381.48" x2="297.40" y2="384.26"/>
<line x1="112.62" y1="222.20" x2="115.00" y2="222.20"/>
<line x1="325.40" y1="381.48" x2="325.40" y2="384.26"/>
<line x1="112.62" y1="251.16" x2="115.00" y2="251.16"/>
<line x1="353.40" y1="381.48" x2="353.40" y2="384.26"/>
<line x1="112.62" y1="280.12" x2="115.00" y2="280.12"/>
<line x1="381.40" y1="381.48" x2="381.40" y2="384.26"/>
<line x1="112.62" y1="309.08" x2="115.00" y2="309.08"/>
<line x1="409.40" y1="381.48" x2="409.40" y2="384.26"/>
<line x1="112.62" y1="338.04" x2="115.00" y2="338.04"/>
<line x1="437.40" y1="381.48" x2="437.40" y2="384.26"/>
<line x1="112.62" y1="367.00" x2="115.00" y2="367.00"/>
<line x1="465.40" y1="381.48" x2="465.40" y2="384.26"/>
</g>
<g text-anchor="end" fill="#000000" stroke="#000000" stroke-width="0.08" font-size="6.8">
<text transform="translate(130.63,386.94) rotate(-89.95)">Orientation</text>
<text transform="translate(158.63,386.94) rotate(-89.95)">stl surface area</text>
<text transform="translate(186.63,386.94) rotate(-89.95)">Number of facets</text>
<text transform="translate(214.63,386.94) rotate(-89.95)">Sliced X</text>
<text transform="translate(242.63,386.94) rotate(-89.95)">Sliced Y</text>
<text transform="translate(270.63,386.94) rotate(-89.95)">Sliced Z</text>
<text transform="translate(298.63,386.94) rotate(-89.95)">Sliced volume</text>
<text transform="translate(326.63,386.94) rotate(-89.95)">Sliced volume including support</text>
<text transform="translate(354.63,386.94) rotate(-89.95)">Total Filament</text>
<text transform="translate(382.63,386.94) rotate(-89.95)">Support Filament</text>
<text transform="translate(410.63,386.94) rotate(-89.95)">Number of layers</text>
<text transform="translate(438.63,386.94) rotate(-89.95)">Expected print time</text>
<text transform="translate(466.63,386.94) rotate(-89.95)">Total energy</text>
</g>
<rect x="502.0" y="5.0" width="18.70" height="376.48" fill="url(#cb)"/>
<g fill="#000000" stroke="#000000" stroke-width="0.08" font-size="6.5">
<line x1="520.7" y1="5.15" x2="523.38" y2="5.15" stroke="#000000" stroke-width="0.62"/>
<text transform="translate(525.96,7.84) rotate(0.05)">1.00</text>
<line x1="520.7" y1="52.21" x2="523.38" y2="52.21" stroke="#000000" stroke-width="0.62"/>
<text transform="translate(525.96,54.90) rotate(0.05)">0.75</text>
<line x1="520.7" y1="99.27" x2="523.38" y2="99.27" stroke="#000000" stroke-width="0.62"/>
<text transform="translate(525.96,101.96) rotate(0.05)">0.50</text>
<line x1="520.7" y1="146.33" x2="523.38" y2="146.33" stroke="#000000" stroke-width="0.62"/>
<text transform="translate(525.96,149.02) rotate(0.05)">0.25</text>
<line x1="520.7" y1="193.39" x2="523.38" y2="193.39" stroke="#000000" stroke-width="0.62"/>
<text transform="translate(525.96,196.08) rotate(0.05)">0.00</text>
<line x1="520.7" y1="240.45" x2="523.38" y2="240.45" stroke="#000000" stroke-width="0.62"/>
<text transform="translate(525.96,243.14) rotate(0.05)">−0.25</text>
<line x1="520.7" y1="287.51" x2="523.38" y2="287.51" stroke="#000000" stroke-width="0.62"/>
<text transform="translate(525.96,290.20) rotate(0.05)">−0.50</text>
<line x1="520.7" y1="334.57" x2="523.38" y2="334.57" stroke="#000000" stroke-width="0.62"/>
<text transform="translate(525.96,337.26) rotate(0.05)">−0.75</text>
<line x1="520.7" y1="381.63" x2="523.38" y2="381.63" stroke="#000000" stroke-width="0.62"/>
<text transform="translate(525.96,384.32) rotate(0.05)">−1.00</text>
</g>
</svg>
</body></html>
